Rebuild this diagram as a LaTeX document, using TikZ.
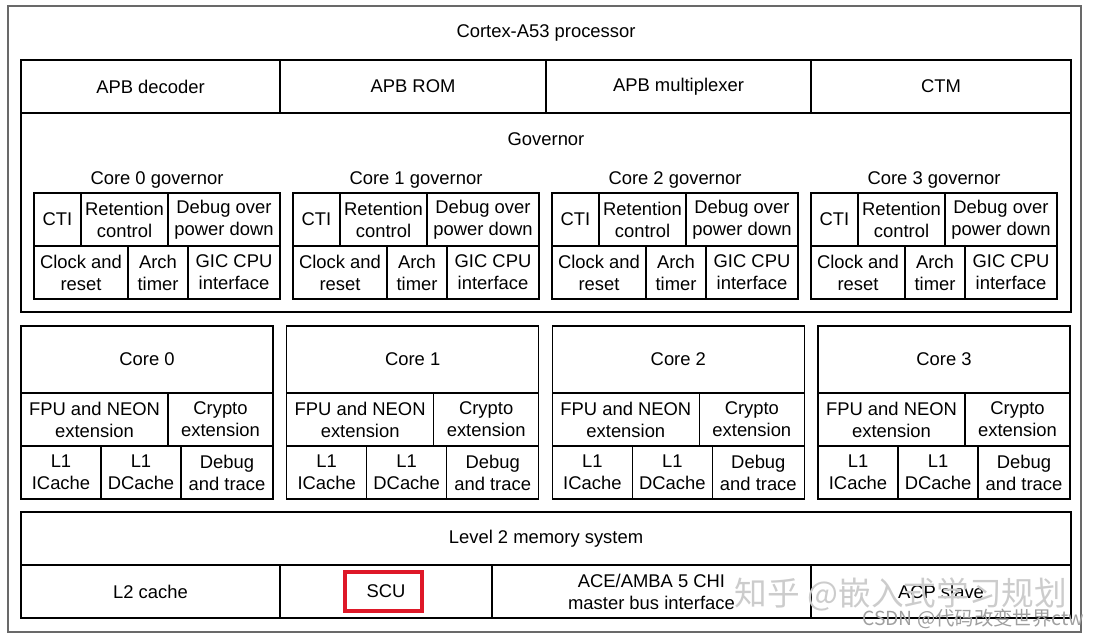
\documentclass[tikz,border=0pt]{standalone}
\usepackage{fontspec}
\setmainfont{Liberation Sans}
\newfontfamily\cjk{Noto Sans CJK SC}
\usetikzlibrary{calc}
\definecolor{scured}{RGB}{222,24,40}
\definecolor{framegray}{RGB}{105,105,105}
\newcommand\cellbox[6]{\draw[box] (#2,#3) rectangle (#4,#5); \node[lbl] (#1) at ($(#2,#3)!0.5!(#4,#5)$) {#6};}
\begin{document}
\begin{tikzpicture}[x=0.75pt,y=-0.75pt,
  box/.style={draw=black, line width=0.95pt},
  lbl/.style={font=\fontsize{13.8}{16.5}\selectfont, align=center, inner sep=0pt},
  wm/.style={inner sep=0pt}]
\useasboundingbox (0,0) rectangle (1096,640);
\draw[draw=framegray, line width=1.6pt] (8,6) rectangle (1081,632);
\node[lbl] (title) at (546,33) {Cortex-A53 processor};
% top row
\cellbox{apbdec}{21}{60}{280}{113}{APB decoder}
\cellbox{apbrom}{280}{60}{546}{113}{APB ROM}
\cellbox{apbmux}{546}{60}{811}{113}{APB multiplexer}
\cellbox{ctm}{811}{60}{1071}{113}{CTM}
% governor
\draw[box] (21,113) rectangle (1071,312);
\node[lbl] (gov) at (546,139) {Governor};
\foreach \i in {0,1,2,3}{
  \pgfmathsetmacro\gx{34+259*\i}
  \node[lbl] (gtitle\i) at (\gx+123,180) {Core \i\ governor};
  \cellbox{gcti\i}{\gx}{193}{\gx+47}{246}{CTI}
  \cellbox{gret\i}{\gx+47}{193}{\gx+134}{246}{Retention\\control}
  \cellbox{gdbg\i}{\gx+134}{193}{\gx+246}{246}{Debug over\\power down}
  \cellbox{gclk\i}{\gx}{246}{\gx+94}{299}{Clock and\\reset}
  \cellbox{garch\i}{\gx+94}{246}{\gx+154}{299}{Arch\\timer}
  \cellbox{ggic\i}{\gx+154}{246}{\gx+246}{299}{GIC CPU\\interface}
}
% cores
\foreach \i in {0,1,2,3}{
  \pgfmathsetmacro\cx{21+265.67*\i}
  \cellbox{core\i}{\cx}{326}{\cx+252}{393}{Core \i}
  \cellbox{fpu\i}{\cx}{393}{\cx+147}{446}{FPU and NEON\\extension}
  \cellbox{cry\i}{\cx+147}{393}{\cx+252}{446}{Crypto\\extension}
  \cellbox{li\i}{\cx}{446}{\cx+80}{499}{L1\\ICache}
  \cellbox{ld\i}{\cx+80}{446}{\cx+160}{499}{L1\\DCache}
  \cellbox{dbg\i}{\cx+160}{446}{\cx+252}{499}{Debug\\and trace}
}
% level 2 memory system
\cellbox{l2sys}{21}{512}{1071}{565}{Level 2 memory system}
\cellbox{l2c}{21}{565}{280}{618}{L2 cache}
\cellbox{scu}{280}{565}{492}{618}{SCU}
\cellbox{ace}{492}{565}{811}{618}{ACE/AMBA 5 CHI\\master bus interface}
\cellbox{acp}{811}{565}{1071}{618}{ACP slave}
\draw[draw=scured, line width=2.4pt] (345,572) rectangle (422,611);
% watermarks
\node[wm, text=gray!40, font=\cjk\fontsize{24.5}{26}\selectfont] (wm1) at (901,594) {知乎 @嵌入式学习规划};
\node[wm, text=gray!75, font=\cjk\fontsize{14.5}{15}\selectfont] (wm2) at (973,619) {CSDN @代码改变世界ctw};
\end{tikzpicture}
\end{document}
